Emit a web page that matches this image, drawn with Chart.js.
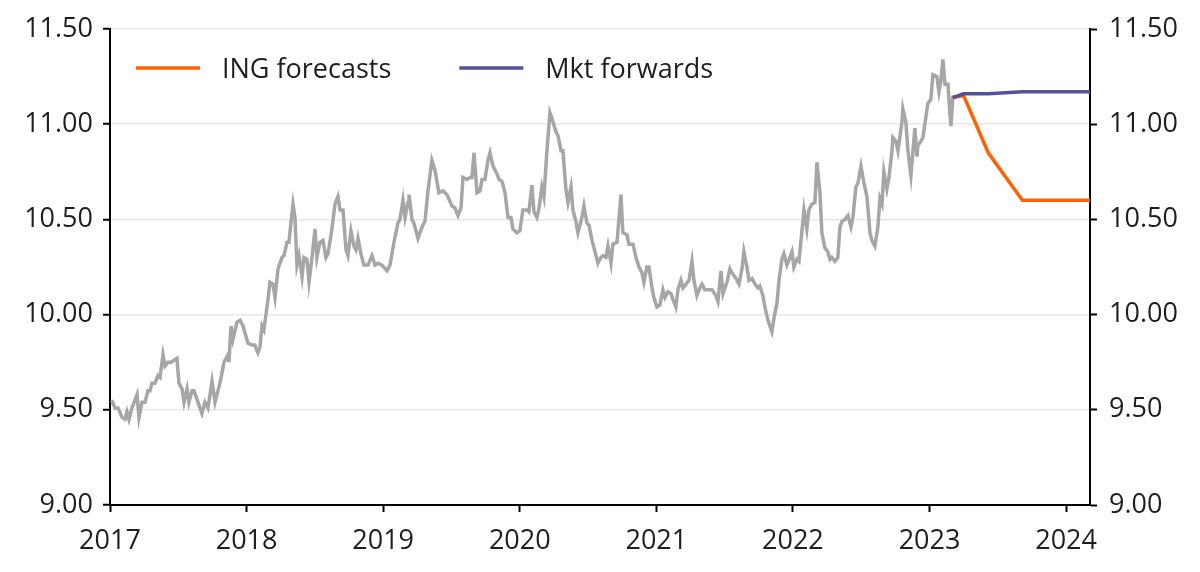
<!DOCTYPE html>
<html lang="en">
<head>
<meta charset="UTF-8">
<title>EUR/SEK</title>
<script src="https://cdn.jsdelivr.net/npm/chart.js@4.4.1/dist/chart.umd.min.js"></script>
<style>
    body { margin: 0; background: #fff; }
    .wrap { width: 1200px; height: 572px; }
</style>
</head>
<body>
<div class="wrap"><canvas id="myChart" width="1200" height="572"></canvas></div>
<script>
// spot rate, weekly-ish (fractional years)
const dates = [
    2017.012, 2017.037, 2017.059, 2017.088, 2017.110, 2017.124, 2017.139, 2017.161, 2017.198, 2017.212,
    2017.234, 2017.256, 2017.278, 2017.293, 2017.307, 2017.329, 2017.351, 2017.366, 2017.388, 2017.403,
    2017.425, 2017.447, 2017.469, 2017.490, 2017.505, 2017.527, 2017.542, 2017.564, 2017.578, 2017.600,
    2017.615, 2017.644, 2017.673, 2017.695, 2017.717, 2017.747, 2017.769, 2017.805, 2017.835, 2017.864,
    2017.871, 2017.886, 2017.900, 2017.930, 2017.952, 2017.974, 2018.010, 2018.040, 2018.061, 2018.083,
    2018.098, 2018.113, 2018.127, 2018.157, 2018.171, 2018.193, 2018.208, 2018.230, 2018.259, 2018.274,
    2018.296, 2018.310, 2018.332, 2018.340, 2018.354, 2018.369, 2018.384, 2018.406, 2018.420, 2018.442,
    2018.457, 2018.479, 2018.501, 2018.515, 2018.537, 2018.559, 2018.581, 2018.596, 2018.625, 2018.647,
    2018.669, 2018.684, 2018.706, 2018.728, 2018.742, 2018.764, 2018.786, 2018.801, 2018.816, 2018.837,
    2018.859, 2018.889, 2018.918, 2018.940, 2018.962, 2018.991, 2019.028, 2019.050, 2019.079, 2019.108,
    2019.123, 2019.145, 2019.160, 2019.182, 2019.189, 2019.211, 2019.225, 2019.255, 2019.269, 2019.291,
    2019.306, 2019.328, 2019.357, 2019.379, 2019.408, 2019.438, 2019.467, 2019.504, 2019.526, 2019.548,
    2019.570, 2019.584, 2019.613, 2019.635, 2019.650, 2019.665, 2019.687, 2019.709, 2019.723, 2019.745,
    2019.767, 2019.782, 2019.804, 2019.833, 2019.848, 2019.870, 2019.892, 2019.914, 2019.936, 2019.950,
    2019.979, 2020.001, 2020.023, 2020.053, 2020.067, 2020.089, 2020.104, 2020.126, 2020.141, 2020.162,
    2020.177, 2020.199, 2020.221, 2020.236, 2020.265, 2020.280, 2020.302, 2020.316, 2020.338, 2020.353,
    2020.375, 2020.389, 2020.411, 2020.426, 2020.455, 2020.470, 2020.492, 2020.507, 2020.529, 2020.551,
    2020.572, 2020.594, 2020.609, 2020.631, 2020.646, 2020.668, 2020.682, 2020.712, 2020.741, 2020.755,
    2020.785, 2020.799, 2020.829, 2020.851, 2020.873, 2020.895, 2020.909, 2020.931, 2020.946, 2020.968,
    2020.982, 2021.004, 2021.026, 2021.048, 2021.063, 2021.085, 2021.107, 2021.121, 2021.143, 2021.158,
    2021.180, 2021.195, 2021.217, 2021.239, 2021.261, 2021.275, 2021.297, 2021.319, 2021.334, 2021.356,
    2021.378, 2021.407, 2021.436, 2021.451, 2021.473, 2021.488, 2021.517, 2021.539, 2021.553, 2021.583,
    2021.605, 2021.627, 2021.641, 2021.663, 2021.678, 2021.700, 2021.722, 2021.744, 2021.758, 2021.780,
    2021.795, 2021.817, 2021.846, 2021.861, 2021.883, 2021.898, 2021.919, 2021.934, 2021.956, 2021.978,
    2021.993, 2022.007, 2022.029, 2022.044, 2022.066, 2022.081, 2022.102, 2022.117, 2022.139, 2022.161,
    2022.176, 2022.198, 2022.212, 2022.234, 2022.256, 2022.271, 2022.285, 2022.307, 2022.329, 2022.344,
    2022.359, 2022.381, 2022.403, 2022.425, 2022.439, 2022.461, 2022.476, 2022.498, 2022.520, 2022.542,
    2022.564, 2022.578, 2022.600, 2022.622, 2022.637, 2022.652, 2022.666, 2022.688, 2022.703, 2022.725,
    2022.732, 2022.754, 2022.769, 2022.798, 2022.805, 2022.827, 2022.842, 2022.864, 2022.878, 2022.893,
    2022.908, 2022.915, 2022.937, 2022.952, 2022.974, 2022.988, 2023.010, 2023.025, 2023.054, 2023.069,
    2023.083, 2023.098, 2023.113, 2023.135, 2023.149, 2023.157, 2023.171
];
const spot = [
    9.55, 9.51, 9.51, 9.46, 9.45, 9.49, 9.45, 9.51, 9.58, 9.46,
    9.54, 9.54, 9.60, 9.60, 9.64, 9.64, 9.68, 9.67, 9.79, 9.73,
    9.75, 9.75, 9.76, 9.77, 9.64, 9.61, 9.54, 9.61, 9.54, 9.60,
    9.60, 9.54, 9.48, 9.54, 9.51, 9.65, 9.54, 9.64, 9.75, 9.79,
    9.75, 9.94, 9.87, 9.96, 9.97, 9.94, 9.85, 9.84, 9.84, 9.80,
    9.83, 9.94, 9.92, 10.08, 10.17, 10.16, 10.09, 10.24, 10.30, 10.31,
    10.38, 10.38, 10.53, 10.58, 10.51, 10.26, 10.31, 10.20, 10.30, 10.29,
    10.17, 10.30, 10.45, 10.30, 10.38, 10.39, 10.30, 10.32, 10.45, 10.58,
    10.62, 10.55, 10.55, 10.34, 10.31, 10.44, 10.36, 10.34, 10.40, 10.32,
    10.26, 10.26, 10.31, 10.26, 10.27, 10.26, 10.23, 10.26, 10.38, 10.48,
    10.50, 10.60, 10.51, 10.59, 10.63, 10.50, 10.48, 10.40, 10.43, 10.47,
    10.49, 10.65, 10.81, 10.76, 10.64, 10.65, 10.63, 10.57, 10.56, 10.52,
    10.56, 10.72, 10.71, 10.72, 10.72, 10.85, 10.64, 10.65, 10.71, 10.71,
    10.81, 10.85, 10.78, 10.74, 10.71, 10.70, 10.64, 10.51, 10.51, 10.45,
    10.43, 10.44, 10.55, 10.55, 10.54, 10.68, 10.54, 10.51, 10.56, 10.67,
    10.62, 10.86, 11.06, 11.03, 10.96, 10.94, 10.86, 10.86, 10.66, 10.59,
    10.67, 10.55, 10.49, 10.43, 10.51, 10.57, 10.48, 10.47, 10.39, 10.33,
    10.27, 10.30, 10.31, 10.30, 10.36, 10.27, 10.37, 10.38, 10.63, 10.43,
    10.42, 10.37, 10.37, 10.30, 10.25, 10.22, 10.17, 10.25, 10.25, 10.14,
    10.09, 10.04, 10.05, 10.13, 10.09, 10.12, 10.11, 10.08, 10.04, 10.13,
    10.18, 10.14, 10.16, 10.18, 10.28, 10.18, 10.10, 10.14, 10.16, 10.13,
    10.13, 10.13, 10.10, 10.07, 10.23, 10.11, 10.17, 10.24, 10.22, 10.19,
    10.16, 10.24, 10.33, 10.25, 10.18, 10.19, 10.16, 10.14, 10.15, 10.10,
    10.04, 9.97, 9.91, 9.98, 10.06, 10.18, 10.29, 10.32, 10.26, 10.30,
    10.33, 10.25, 10.29, 10.28, 10.44, 10.55, 10.45, 10.55, 10.58, 10.59,
    10.80, 10.64, 10.43, 10.35, 10.33, 10.29, 10.30, 10.28, 10.30, 10.46,
    10.49, 10.50, 10.52, 10.46, 10.51, 10.67, 10.69, 10.78, 10.69, 10.62,
    10.43, 10.39, 10.36, 10.46, 10.61, 10.58, 10.75, 10.66, 10.72, 10.86,
    10.93, 10.91, 10.86, 11.01, 11.08, 11.01, 10.86, 10.73, 10.85, 10.98,
    10.83, 10.89, 10.91, 10.93, 11.04, 11.11, 11.13, 11.26, 11.25, 11.17,
    11.23, 11.34, 11.21, 11.21, 11.06, 10.99, 11.15
];

// forecasts
const fcDates = [2023.17, 2023.25, 2023.43, 2023.68, 2024.175];
const ingForecasts = [11.14, 11.15, 10.85, 10.60, 10.60];
const mktForwards = [11.14, 11.16, 11.16, 11.17, 11.17];

const yTicks = [9.00, 9.50, 10.00, 10.50, 11.00, 11.50];
const xTicks = [2017, 2018, 2019, 2020, 2021, 2022, 2023, 2024];
const xMin = 2017, xMax = 2024.175;

const FONT = "'Open Sans', sans-serif";
Chart.defaults.font.family = FONT;
Chart.defaults.font.size = 27;
Chart.defaults.color = '#1e1e1e';

function toPoints(xs, ys) {
    return xs.map(function (x, i) { return { x: x, y: ys[i] }; });
}

// legend drawn inside the plot, top-left
const insideLegend = {
    id: 'insideLegend',
    afterDraw(chart) {
        const { ctx, chartArea } = chart;
        ctx.save();
        ctx.font = '27px ' + FONT;
        ctx.textBaseline = 'middle';
        let x = chartArea.left + 26;
        const y = chartArea.top + 39;
        chart.data.datasets
            .filter(d => d.legendRank)
            .sort((a, b) => a.legendRank - b.legendRank)
            .forEach(d => {
                ctx.strokeStyle = d.borderColor;
                ctx.lineWidth = 3.5;
                ctx.beginPath();
                ctx.moveTo(x, y);
                ctx.lineTo(x + 64, y);
                ctx.stroke();
                ctx.fillStyle = '#1e1e1e';
                ctx.fillText(d.label, x + 86, y + 2);
                x += 86 + ctx.measureText(d.label).width + 68;
            });
        ctx.restore();
    }
};

const ctx = document.getElementById('myChart').getContext('2d');
const myChart = new Chart(ctx, {
    type: 'line',
    data: {
        datasets: [{
            label: 'Mkt forwards',
            legendRank: 2,
            data: toPoints(fcDates, mktForwards),
            borderColor: '#525199',
            borderWidth: 3.5,
            pointRadius: 0
        }, {
            label: 'ING forecasts',
            legendRank: 1,
            data: toPoints(fcDates, ingForecasts),
            borderColor: '#FF6200',
            borderWidth: 3.5,
            pointRadius: 0
        }, {
            label: 'Spot',
            data: toPoints(dates, spot),
            borderColor: '#a6a6a6',
            borderWidth: 3.5,
            pointRadius: 0
        }]
    },
    options: {
        responsive: false,
        animation: false,
        layout: { padding: { top: 29 } },
        plugins: {
            legend: { display: false },
            tooltip: { enabled: false }
        },
        scales: {
            x: {
                type: 'linear',
                min: xMin,
                max: xMax,
                afterBuildTicks: a => { a.ticks = xTicks.map(v => ({ value: v })); },
                afterFit: a => { a.height = 67; },
                border: { color: '#000', width: 2 },
                grid: { drawOnChartArea: false, tickColor: '#000', tickLength: 7, tickWidth: 2 },
                ticks: { callback: v => String(v), maxRotation: 0, autoSkip: false, padding: 13 }
            },
            y: {
                position: 'left',
                min: 9,
                max: 11.5,
                afterBuildTicks: a => { a.ticks = yTicks.map(v => ({ value: v })); },
                afterFit: a => { a.width = 110; },
                border: { color: '#000', width: 2 },
                grid: { color: '#e8e8e8', lineWidth: 1.5, tickColor: '#000', tickLength: 7, tickWidth: 2 },
                ticks: { callback: v => v.toFixed(2), padding: 10 }
            },
            y2: {
                position: 'right',
                min: 9,
                max: 11.5,
                afterBuildTicks: a => { a.ticks = yTicks.map(v => ({ value: v })); },
                afterFit: a => { a.width = 110; },
                border: { color: '#000', width: 2 },
                grid: { drawOnChartArea: false, tickColor: '#000', tickLength: 7, tickWidth: 2 },
                ticks: { callback: v => v.toFixed(2), padding: 12 }
            }
        }
    },
    plugins: [insideLegend]
});
</script>
</body>
</html>
